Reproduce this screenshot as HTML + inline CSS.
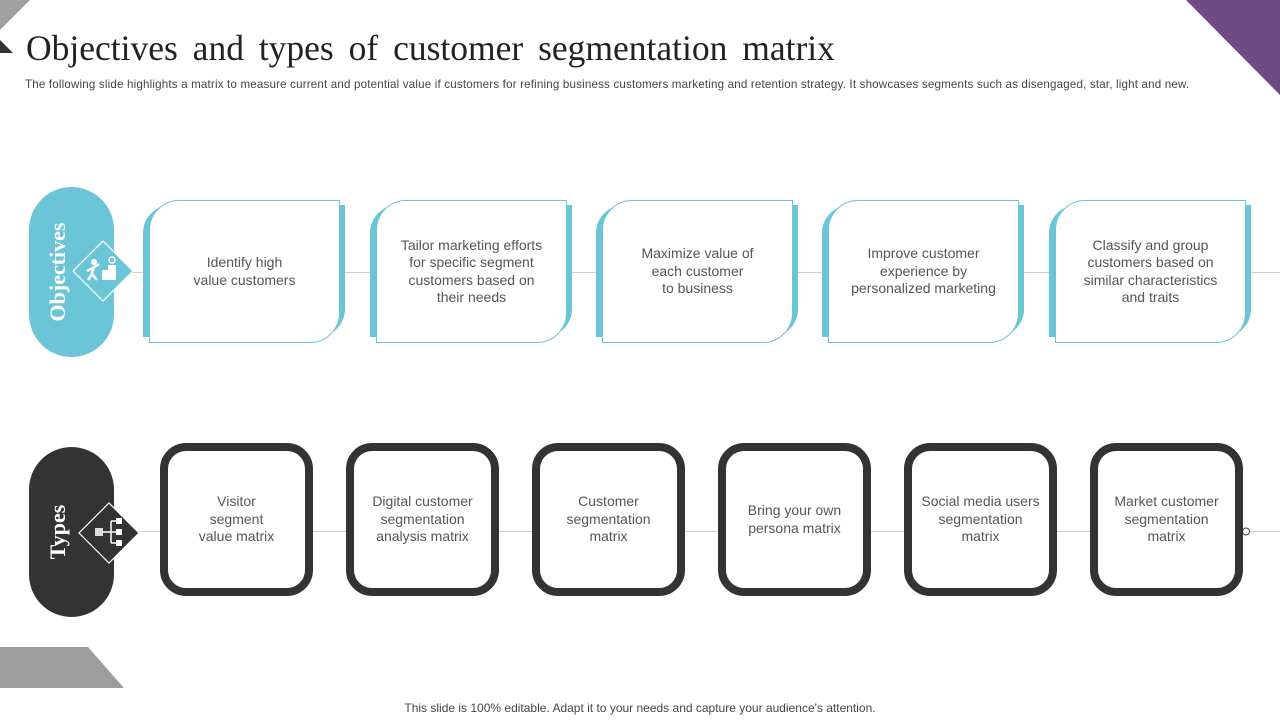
<!DOCTYPE html>
<html><head><style>
body{margin:0;width:1280px;height:720px;position:relative;overflow:hidden;background:#fff;font-family:"Liberation Sans",sans-serif;}
.a{position:absolute}
.t{font-family:"Liberation Serif",serif;font-size:35.5px;color:#222;left:26px;top:27px;word-spacing:6px;white-space:nowrap}
.sub{left:25px;top:78px;font-size:11.6px;color:#444;letter-spacing:0.17px;white-space:nowrap}
.line{height:1px;background:#d0d0d0}
.back{background:#6cc5d6;border-radius:28px 0 28px 0}
.front{background:#fff;border:1px solid #6cc5d6;border-radius:30px 0 30px 0;box-sizing:border-box;display:flex;align-items:center;justify-content:center;text-align:center;font-size:14px;line-height:17.5px;color:#555}
.tc{border:8px solid #333;border-radius:26px;box-sizing:border-box;background:#fff;display:flex;align-items:center;justify-content:center;text-align:center;font-size:14px;line-height:17.5px;color:#555}
.pill{width:85px;height:170px;border-radius:43px;left:29px}
.vt{position:absolute;left:0;top:0;width:170px;height:40px;transform-origin:0 0;color:#fff;font-family:"Liberation Serif",serif;font-weight:bold;font-size:22px;text-align:center;line-height:40px}
</style></head><body>
<svg class="a" style="left:0;top:0" width="1280" height="720">
<polygon points="0,0 30,0 0,30" fill="#a0a0a0"/>
<polygon points="0,40 13,53 0,53" fill="#333"/>
<polygon points="1186,0 1280,0 1280,95" fill="#6f4a85"/>
<polygon points="0,647 88,647 124,688 0,688" fill="#9d9d9d"/>
</svg>
<div class="a t">Objectives and types of customer segmentation matrix</div>
<div class="a sub">The following slide highlights a matrix to measure current and potential value if customers for refining business customers marketing and retention strategy. It showcases segments such as disengaged, star, light and new.</div>

<div class="a line" style="left:110px;top:272px;width:1170px"></div>
<div class="a line" style="left:110px;top:531px;width:1170px"></div>
<svg class="a" style="left:1240px;top:526px" width="12" height="12"><circle cx="6" cy="5.5" r="3.5" fill="#fff" stroke="#444" stroke-width="1"/></svg>

<div class="a pill" style="top:187px;background:#6cc5d6"><div class="vt" style="transform:translate(9px,170px) rotate(-90deg)">Objectives</div></div>
<div class="a pill" style="top:447px;background:#333"><div class="vt" style="transform:translate(9px,170px) rotate(-90deg)">Types</div></div>

<svg class="a" style="left:72px;top:240px" width="62" height="62">
<polygon points="31,1 61,31 31,61 1,31" fill="#6cc5d6" stroke="#fff" stroke-width="1.2"/>
<rect x="30" y="30" width="14" height="10" fill="#fff"/><rect x="36" y="25" width="8" height="6" fill="#fff"/>
<circle cx="22" cy="22" r="3" fill="#fff"/><path d="M22 26 L20 34 L16 40 M20 34 L25 40 M21 28 L27 24 M21 28 L15 31" stroke="#fff" stroke-width="2.5" fill="none"/>
<circle cx="40" cy="20" r="3" fill="none" stroke="#fff" stroke-width="1.5"/>
</svg>
<svg class="a" style="left:78px;top:502px" width="62" height="62">
<polygon points="31,1 61,31 31,61 1,31" fill="#333" stroke="#fff" stroke-width="1.2"/>
<rect x="17" y="26" width="8" height="8" fill="#ddd"/>
<path d="M25 30 H33 M33 19 V41 M33 19 H39 M33 30 H39 M33 41 H39" stroke="#fff" stroke-width="1.5" fill="none"/>
<rect x="38" y="16" width="6" height="6" fill="#fff"/><rect x="38" y="27" width="6" height="6" fill="#fff"/><rect x="38" y="38" width="6" height="6" fill="#fff"/>
</svg>

<div class="a back" style="left:143px;top:205px;width:202px;height:132px"></div>
<div class="a front" style="left:149px;top:200px;width:191px;height:143px">Identify high<br>value customers</div>
<div class="a back" style="left:370px;top:205px;width:202px;height:132px"></div>
<div class="a front" style="left:376px;top:200px;width:191px;height:143px">Tailor marketing efforts<br>for specific segment<br>customers based on<br>their needs</div>
<div class="a back" style="left:596px;top:205px;width:202px;height:132px"></div>
<div class="a front" style="left:602px;top:200px;width:191px;height:143px">Maximize value of<br>each customer<br>to business</div>
<div class="a back" style="left:822px;top:205px;width:202px;height:132px"></div>
<div class="a front" style="left:828px;top:200px;width:191px;height:143px">Improve customer<br>experience by<br>personalized marketing</div>
<div class="a back" style="left:1049px;top:205px;width:202px;height:132px"></div>
<div class="a front" style="left:1055px;top:200px;width:191px;height:143px">Classify and group<br>customers based on<br>similar characteristics<br>and traits</div>

<div class="a tc" style="left:160px;top:443px;width:153px;height:153px">Visitor<br>segment<br>value matrix</div>
<div class="a tc" style="left:346px;top:443px;width:153px;height:153px">Digital customer<br>segmentation<br>analysis matrix</div>
<div class="a tc" style="left:532px;top:443px;width:153px;height:153px">Customer<br>segmentation<br>matrix</div>
<div class="a tc" style="left:718px;top:443px;width:153px;height:153px">Bring your own<br>persona matrix</div>
<div class="a tc" style="left:904px;top:443px;width:153px;height:153px">Social media users<br>segmentation<br>matrix</div>
<div class="a tc" style="left:1090px;top:443px;width:153px;height:153px">Market customer<br>segmentation<br>matrix</div>

<div class="a" style="left:0;width:1280px;top:701px;text-align:center;font-size:12px;color:#444">This slide is 100% editable. Adapt it to your needs and capture your audience's attention.</div>
</body></html>
